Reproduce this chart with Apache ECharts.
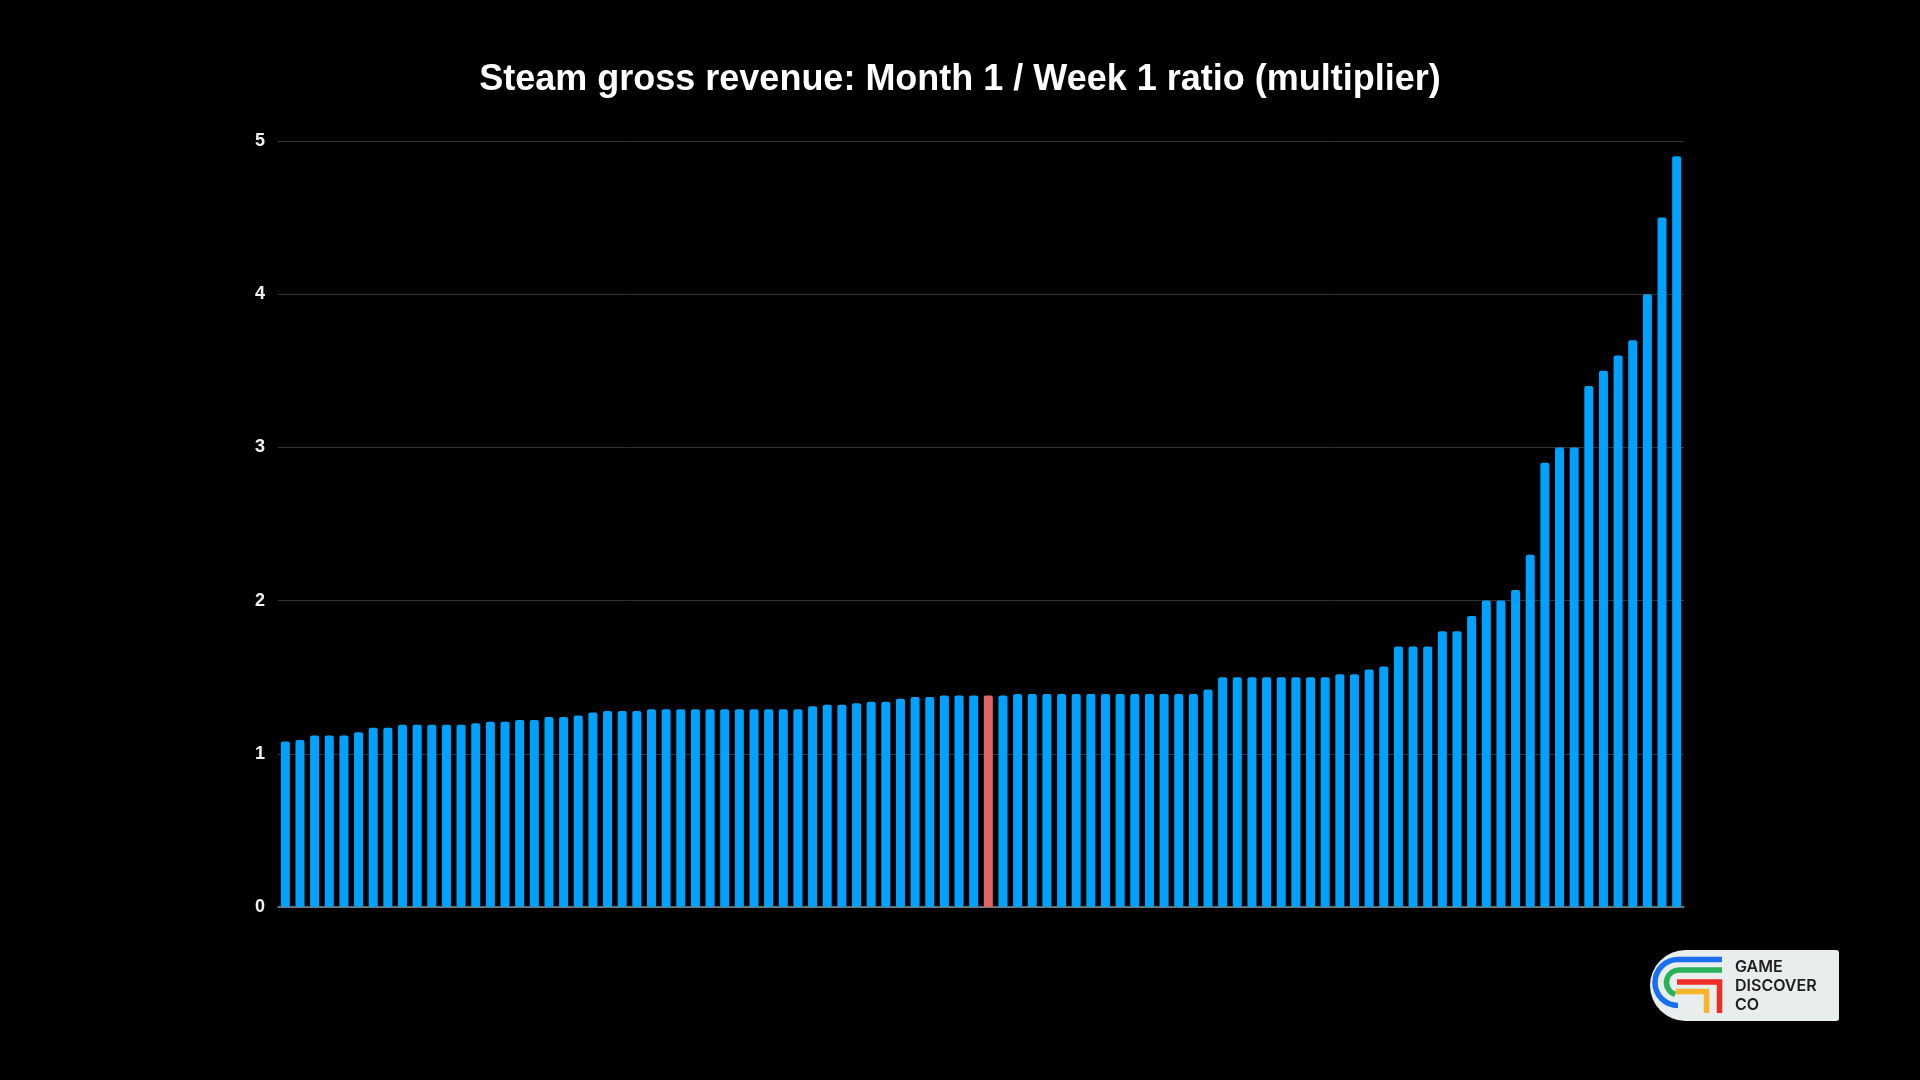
<!DOCTYPE html>
<html>
<head>
<meta charset="utf-8">
<title>Steam gross revenue: Month 1 / Week 1 ratio</title>
<script src="https://cdn.jsdelivr.net/npm/echarts@6/dist/echarts.min.js"></script>
<style>
  html, body { margin: 0; padding: 0; background: #000; }
  #chart { width: 1920px; height: 1080px; }
</style>
</head>
<body>
<div id="chart"></div>
<script>
var dom = document.getElementById('chart');
var myChart = echarts.init(dom, null, { renderer: 'canvas' });

// Month 1 / Week 1 multiplier per game, sorted ascending
const ratios = [
  1.08, 1.09, 1.12, 1.12, 1.12, 1.14, 1.17, 1.17, 1.19, 1.19,
  1.19, 1.19, 1.19, 1.20, 1.21, 1.21, 1.22, 1.22, 1.24, 1.24,
  1.25, 1.27, 1.28, 1.28, 1.28, 1.29, 1.29, 1.29, 1.29, 1.29,
  1.29, 1.29, 1.29, 1.29, 1.29, 1.29, 1.31, 1.32, 1.32, 1.33,
  1.34, 1.34, 1.36, 1.37, 1.37, 1.38, 1.38, 1.38, 1.38, 1.38,
  1.39, 1.39, 1.39, 1.39, 1.39, 1.39, 1.39, 1.39, 1.39, 1.39,
  1.39, 1.39, 1.39, 1.42, 1.50, 1.50, 1.50, 1.50, 1.50, 1.50,
  1.50, 1.50, 1.52, 1.52, 1.55, 1.57, 1.70, 1.70, 1.70, 1.80,
  1.80, 1.90, 2.00, 2.00, 2.07, 2.30, 2.90, 3.00, 3.00, 3.40,
  3.50, 3.60, 3.70, 4.00, 4.50, 4.90
];
const games = ratios.map(function (v, i) { return 'Game ' + (i + 1); });
const highlightIndex = 48;
const yTicks = [0, 1, 2, 3, 4, 5];

const blue = '#00a1ff';
const red = '#e06666';

var barData = ratios.map(function (v, i) {
  if (i === highlightIndex) {
    return { value: v, itemStyle: { color: red } };
  }
  return v;
});

// logo drawn as decoration
var logoCx = 1678, logoCy = 982.5;
var logo = [
  {
    type: 'rect',
    shape: { x: 1650, y: 950, width: 189, height: 71, r: [36, 3, 3, 36] },
    style: { fill: '#e8eded' }
  },
  {
    type: 'arc',
    shape: { cx: logoCx, cy: logoCy, r: 23, startAngle: Math.PI / 2, endAngle: Math.PI * 1.5, clockwise: true },
    style: { stroke: '#1a6ff0', lineWidth: 5.5, fill: null }
  },
  {
    type: 'line',
    shape: { x1: logoCx, y1: logoCy - 23, x2: 1722, y2: logoCy - 23 },
    style: { stroke: '#1a6ff0', lineWidth: 5.5 }
  },
  {
    type: 'arc',
    shape: { cx: logoCx + 1, cy: logoCy, r: 12.5, startAngle: Math.PI * 0.6, endAngle: Math.PI * 1.5, clockwise: true },
    style: { stroke: '#27b35a', lineWidth: 5.5, fill: null }
  },
  {
    type: 'line',
    shape: { x1: logoCx + 1, y1: logoCy - 12.5, x2: 1722, y2: logoCy - 12.5 },
    style: { stroke: '#27b35a', lineWidth: 5.5 }
  },
  {
    type: 'polyline',
    shape: { points: [[1677, 982], [1719.5, 982], [1719.5, 1013]] },
    style: { stroke: '#f02a24', lineWidth: 5.5, fill: null }
  },
  {
    type: 'polyline',
    shape: { points: [[1676, 991.5], [1706.5, 991.5], [1706.5, 1013]] },
    style: { stroke: '#f7b52c', lineWidth: 5.5, fill: null }
  },
  {
    type: 'text',
    style: {
      x: 1735, y: 986, text: 'GAME\nDISCOVER\nCO',
      fill: '#1e1e1e', font: '600 16px Inter, "Noto Sans", sans-serif',
      lineHeight: 19, verticalAlign: 'middle', align: 'left'
    }
  }
];

var option = {
  backgroundColor: '#000000',
  animation: false,
  title: {
    text: 'Steam gross revenue: Month 1 / Week 1 ratio (multiplier)',
    left: 'center',
    top: 57,
    textStyle: {
      color: '#ffffff',
      fontSize: 36,
      fontWeight: 'bold',
      fontFamily: '"Liberation Sans", Arial, sans-serif'
    }
  },
  grid: {
    left: 278,
    right: 236,
    top: 141,
    bottom: 173
  },
  xAxis: {
    type: 'category',
    data: games,
    axisLine: { lineStyle: { color: '#8a8a8a', width: 1.5 } },
    axisTick: { show: false },
    axisLabel: { show: false }
  },
  yAxis: {
    type: 'value',
    min: yTicks[0],
    max: yTicks[yTicks.length - 1],
    interval: 1,
    axisLine: { show: false },
    axisTick: { show: false },
    axisLabel: {
      color: '#f0f0f0',
      fontSize: 18,
      fontWeight: 'bold',
      fontFamily: '"Liberation Sans", Arial, sans-serif',
      margin: 13
    },
    splitLine: { lineStyle: { color: '#333333', width: 1 } }
  },
  series: [
    {
      type: 'bar',
      data: barData,
      barWidth: 9,
      itemStyle: {
        color: blue,
        borderRadius: [2, 2, 0, 0]
      }
    }
  ],
  graphic: logo
};

myChart.setOption(option);
window.addEventListener('resize', myChart.resize);
</script>
</body>
</html>
